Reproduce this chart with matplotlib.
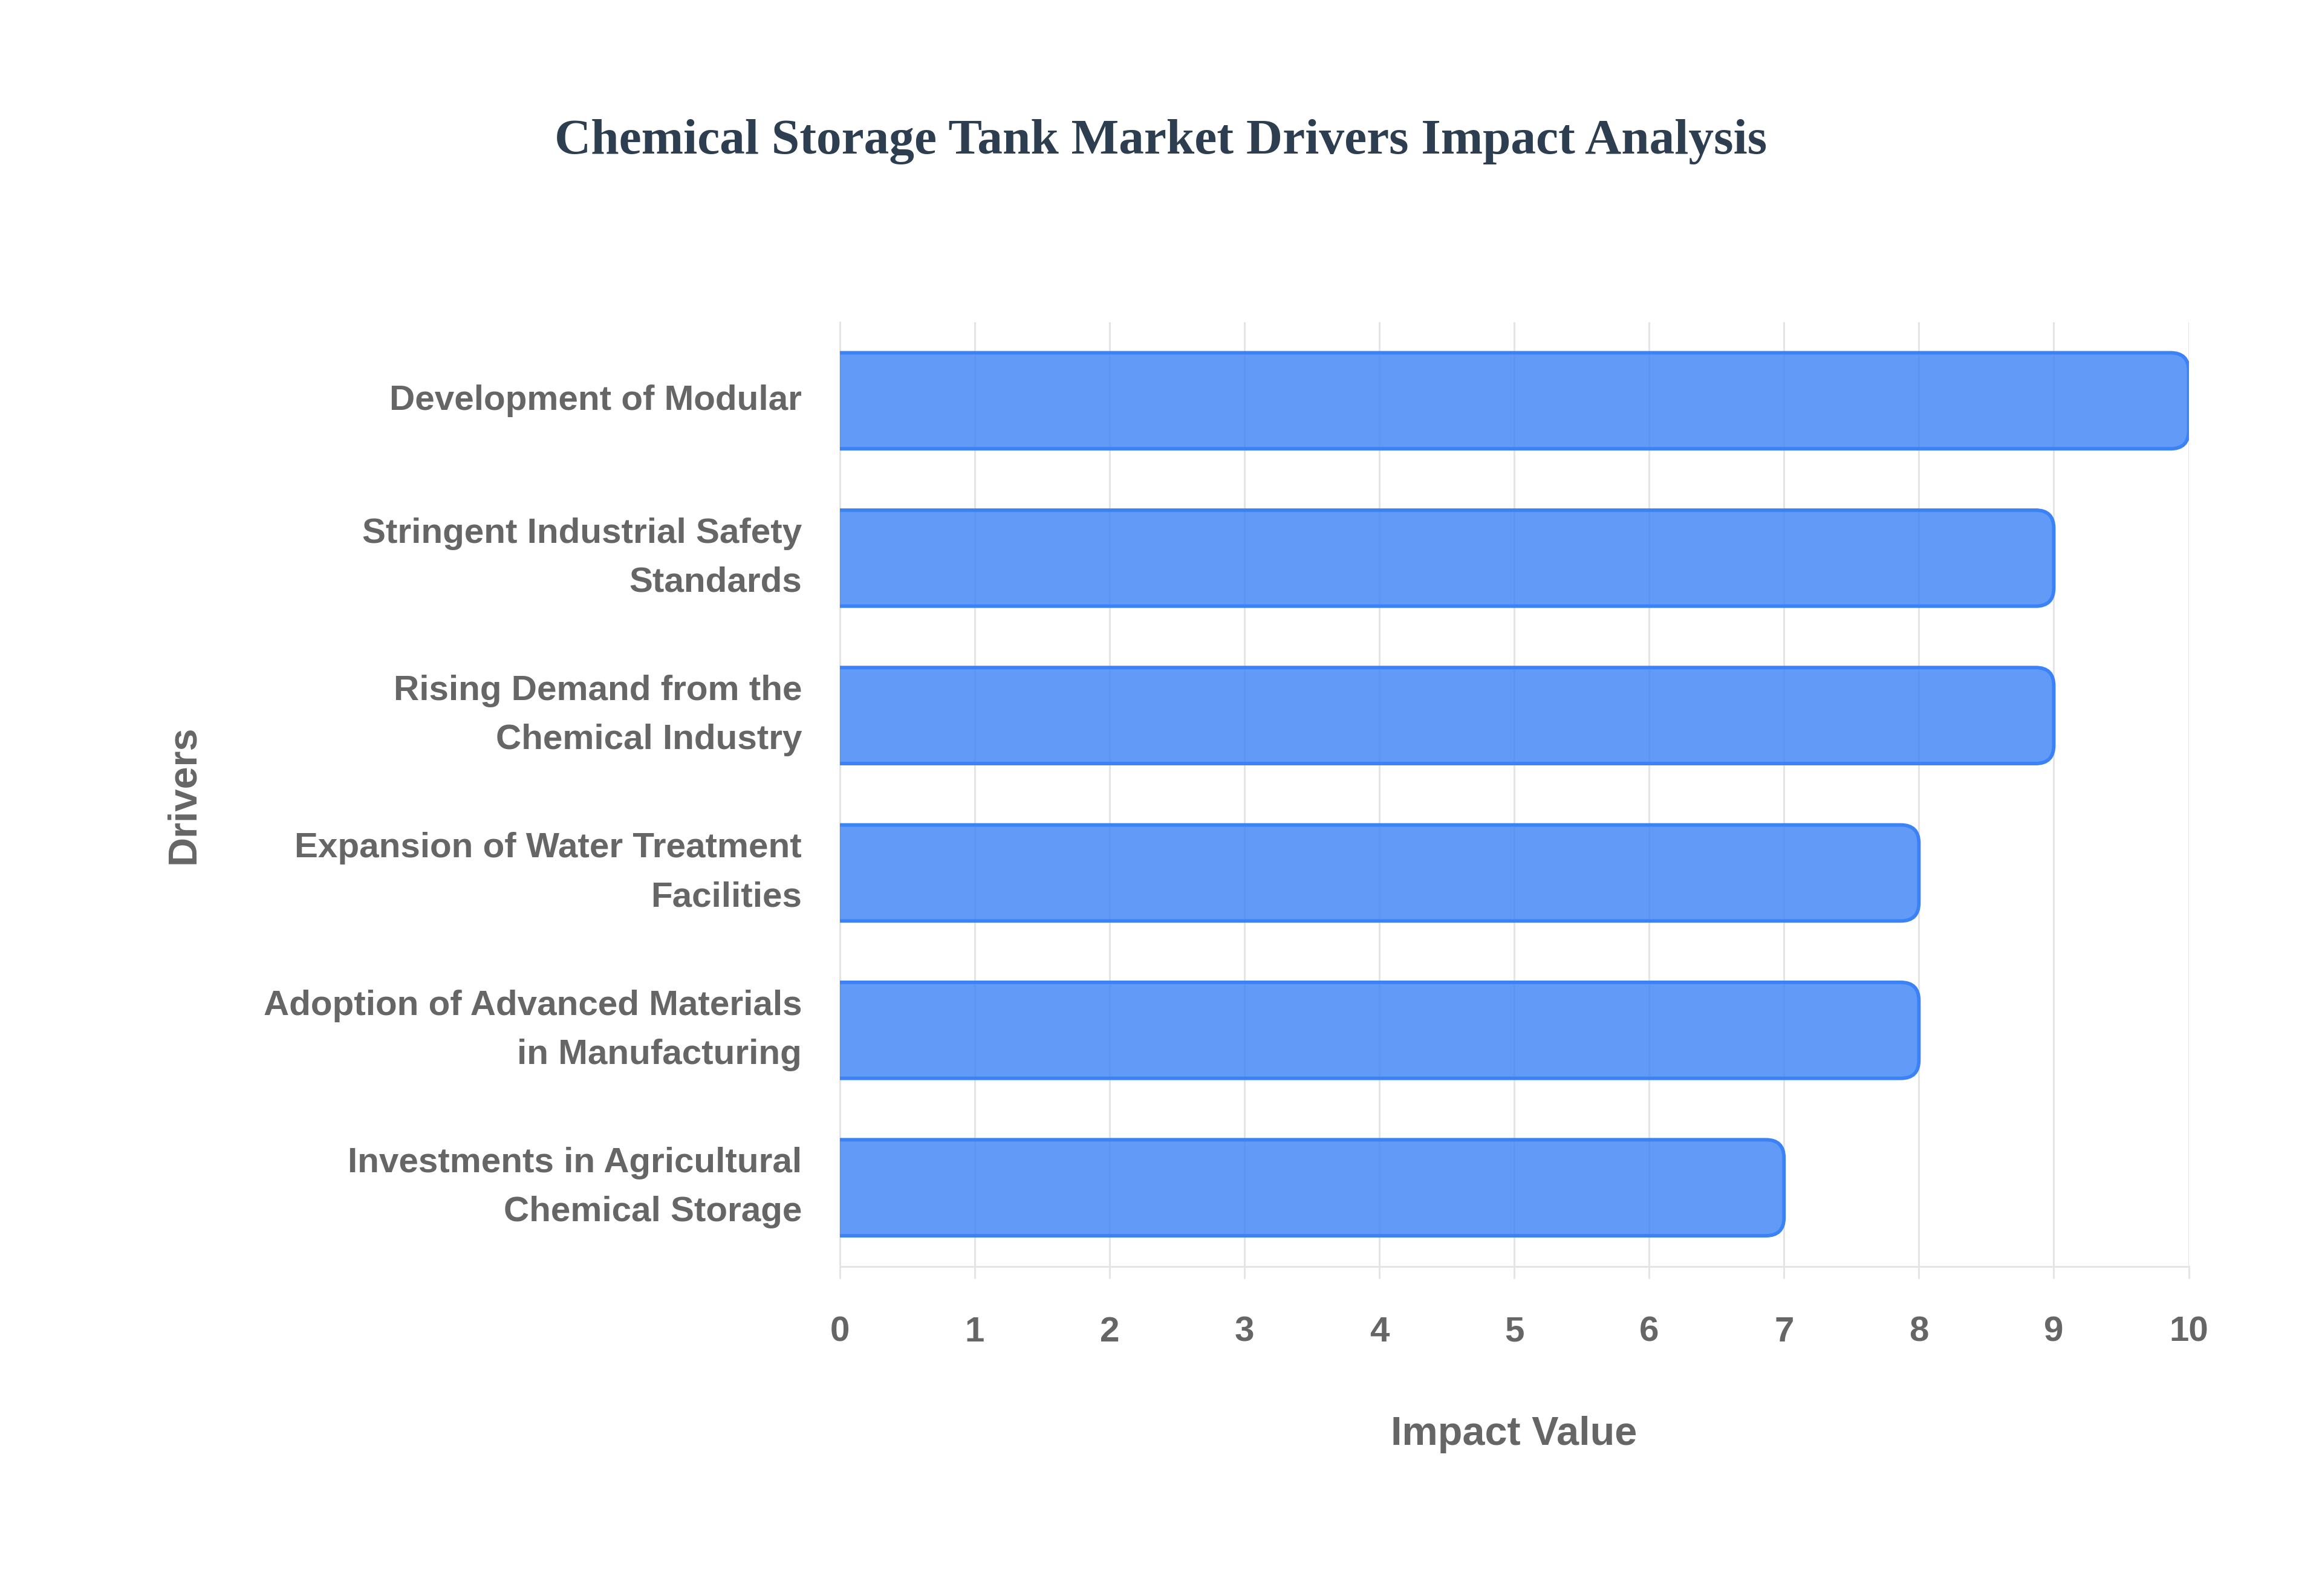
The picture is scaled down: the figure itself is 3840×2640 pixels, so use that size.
import numpy as np
import matplotlib
matplotlib.use("Agg")
import matplotlib.pyplot as plt
from matplotlib.patches import FancyBboxPatch

# data, top to bottom
drivers = [
    "Development of Modular",
    "Stringent Industrial Safety\nStandards",
    "Rising Demand from the\nChemical Industry",
    "Expansion of Water Treatment\nFacilities",
    "Adoption of Advanced Materials\nin Manufacturing",
    "Investments in Agricultural\nChemical Storage",
]
impact = [10, 9, 9, 8, 8, 7]
x_ticks = list(range(0, 11))

plt.rcParams['font.family'] = ['Liberation Sans', 'DejaVu Sans']

text_gray = "#666666"
grid_gray = "#e4e4e4"
fill_col = (59/255, 130/255, 246/255, 0.8)
edge_col = "#3b82f6"

fig = plt.figure(figsize=(12.8, 8.8), dpi=300)
ax = fig.add_axes([0.3616, 0.2065, 0.5810, 0.5917])

y = np.arange(len(drivers))
ax.set_xlim(0, 10)
ax.set_ylim(len(drivers) - 0.5, -0.5)

# invisible bars give geometry, rounded patches drawn on top
bars = ax.barh(y, impact, height=0.61, color='none', edgecolor='none')

p0 = ax.transData.transform((0, 0))
p1 = ax.transData.transform((1, 1))
px_x = abs(p1[0] - p0[0])
px_y = abs(p1[1] - p0[1])
aspect = px_x / px_y
r = 30 / px_x
for b in bars:
    bx, by = b.get_x(), b.get_y()
    bw, bh = b.get_width(), b.get_height()
    patch = FancyBboxPatch((bx - 2 * r, by), bw + 2 * r, bh,
                           boxstyle=f"round,pad=0,rounding_size={r}",
                           mutation_aspect=aspect,
                           facecolor=fill_col, edgecolor=edge_col,
                           linewidth=1.4, clip_on=True, zorder=3)
    ax.add_patch(patch)

ax.set_axisbelow(True)
ax.set_xticks(x_ticks)
ax.set_xticklabels([str(t) for t in x_ticks])
ax.set_yticks(y)
ax.set_yticklabels(drivers, linespacing=1.65, ha='right', va='center')

ax.grid(axis='x', color=grid_gray, linewidth=0.7)
ax.grid(axis='y', visible=False)
for side in ['top', 'right']:
    ax.spines[side].set_visible(False)
for side in ['left', 'bottom']:
    ax.spines[side].set_color(grid_gray)
    ax.spines[side].set_linewidth(0.7)

ax.tick_params(axis='x', length=4.7, width=0.7, color=grid_gray,
               labelsize=14, labelcolor=text_gray, pad=15)
ax.tick_params(axis='y', length=0, labelsize=14, labelcolor=text_gray, pad=15)
for lbl in ax.get_xticklabels() + ax.get_yticklabels():
    lbl.set_fontweight('bold')

ax.set_xlabel("Impact Value", fontsize=16, fontweight='bold', color=text_gray)
ax.xaxis.set_label_coords(0.5, -0.178)
ax.set_ylabel("Drivers", fontsize=16, fontweight='bold', color=text_gray)
ax.yaxis.set_label_coords(-0.486, 0.5)
ax.yaxis.label.set_va('center')
ax.xaxis.label.set_va('center')

fig.text(0.5, 0.911, "Chemical Storage Tank Market Drivers Impact Analysis",
         ha='center', va='center', fontsize=20, fontweight='bold',
         color="#2c3e50", family=['Liberation Serif', 'DejaVu Serif'])

fig.savefig("out.png", dpi=300, facecolor='white')
